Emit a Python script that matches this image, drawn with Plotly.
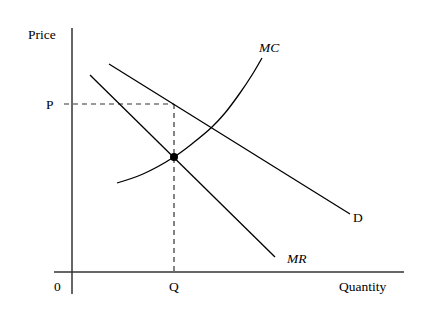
import plotly.graph_objects as go

# Data (arbitrary units; origin at the axes' crossing)
demand_q = [3.7, 27.8]
demand_p = [20.8, 5.8]
mr_q = [1.8, 20.3]
mr_p = [19.7, 1.5]
mc_q = [4.5, 7.1, 10.2, 12.1, 14.0, 15.3, 16.8, 18.0, 19.0]
mc_p = [8.9, 9.8, 11.5, 12.9, 14.5, 15.9, 17.9, 19.7, 21.4]
eq_q = 10.2
eq_p = 11.5
price_p = 16.8

FONT = "Liberation Serif, Times New Roman, serif"

fig = go.Figure()

# axes lines
fig.add_trace(go.Scatter(x=[0, 0], y=[-2.2, 24.4], mode="lines",
                         line=dict(color="#333333", width=1.5), hoverinfo="skip"))
fig.add_trace(go.Scatter(x=[-1.8, 33.2], y=[0, 0], mode="lines",
                         line=dict(color="#333333", width=1.5), hoverinfo="skip"))

# dashed guides
fig.add_trace(go.Scatter(x=[-0.8, eq_q], y=[price_p, price_p], mode="lines",
                         line=dict(color="#333333", width=1.2, dash="5px,4px"), hoverinfo="skip"))
fig.add_trace(go.Scatter(x=[eq_q, eq_q], y=[price_p, 0], mode="lines",
                         line=dict(color="#333333", width=1.2, dash="5px,4px"), hoverinfo="skip"))

# curves
fig.add_trace(go.Scatter(x=demand_q, y=demand_p, mode="lines",
                         line=dict(color="black", width=1.3)))
fig.add_trace(go.Scatter(x=mr_q, y=mr_p, mode="lines",
                         line=dict(color="black", width=1.3)))
fig.add_trace(go.Scatter(x=mc_q, y=mc_p, mode="lines",
                         line=dict(color="black", width=1.3, shape="spline", smoothing=1.0)))
fig.add_trace(go.Scatter(x=[eq_q], y=[eq_p], mode="markers",
                         marker=dict(color="black", size=8)))

def label(x, y, text, italic=False):
    t = f"<i>{text}</i>" if italic else text
    fig.add_annotation(x=x, y=y, text=t, showarrow=False, xref="x", yref="y",
                       font=dict(family=FONT, size=13.5, color="black"),
                       xanchor="center", yanchor="middle")

label(-3.05, 23.8, "Price")
label(-2.2, price_p, "P")
label(-1.5, -1.4, "0")
label(eq_q, -1.4, "Q")
label(29.0, -1.4, "Quantity")
label(19.7, 22.5, "MC", italic=True)
label(28.6, 5.5, "D")
label(22.4, 1.4, "MR", italic=True)

fig.update_layout(
    width=448, height=318,
    margin=dict(l=0, r=0, t=0, b=0),
    paper_bgcolor="white", plot_bgcolor="white",
    showlegend=False,
    xaxis=dict(range=[-7.2, 37.6], visible=False, fixedrange=True),
    yaxis=dict(range=[-4.6, 27.2], visible=False, fixedrange=True),
)

fig.write_html("out.html")
